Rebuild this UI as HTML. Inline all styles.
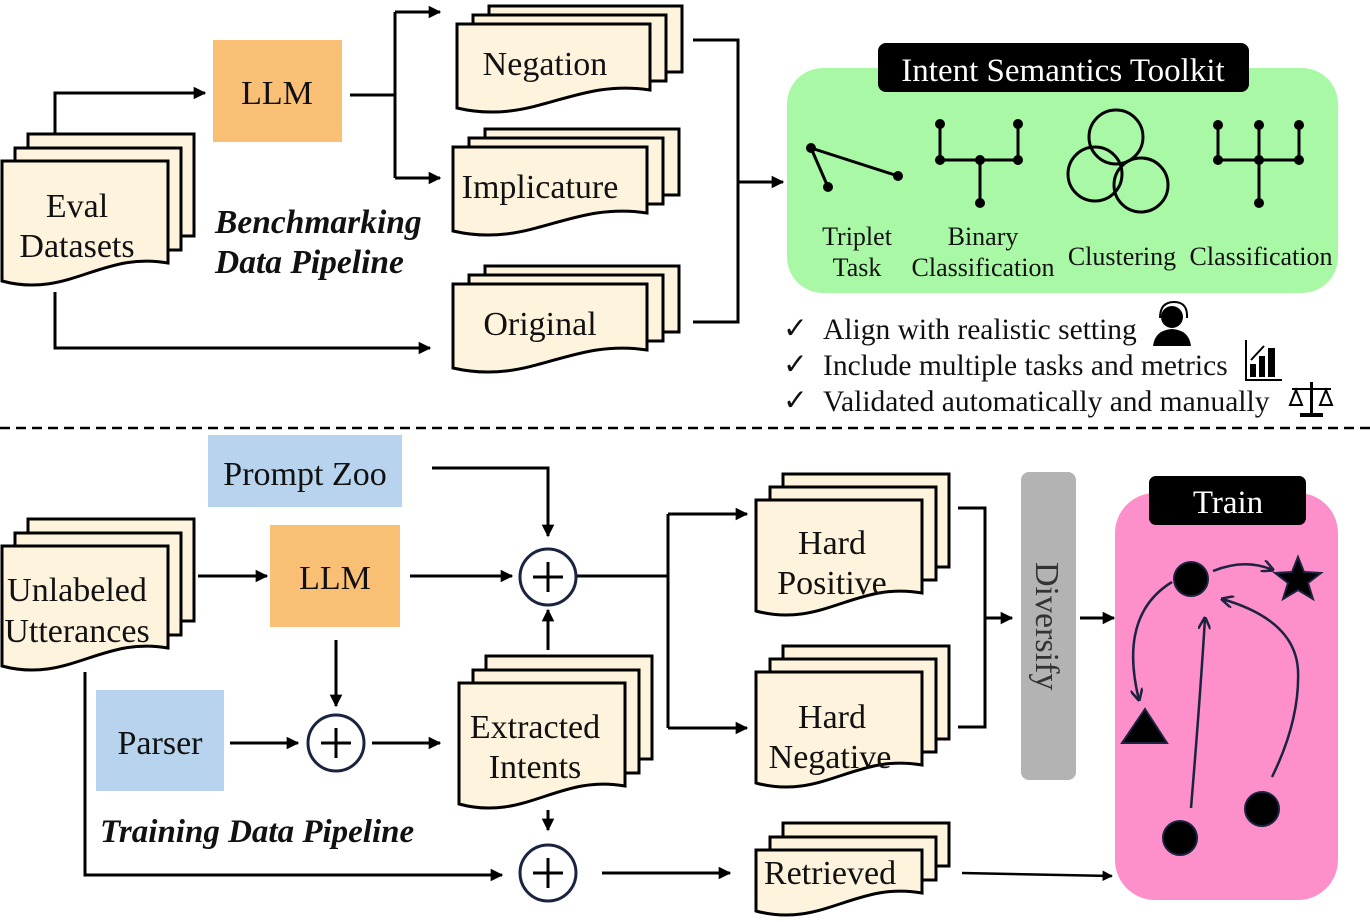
<!DOCTYPE html>
<html><head><meta charset="utf-8">
<style>
html,body{margin:0;padding:0;background:#fff;}
svg{display:block;}
text{font-family:"Liberation Serif","Times New Roman",serif;fill:#111;}
</style></head>
<body>
<svg id="s" width="1370" height="922" viewBox="0 0 1370 922" xmlns="http://www.w3.org/2000/svg">
<defs>
<marker id="a" viewBox="0 0 10 10" refX="9" refY="5" markerWidth="4.2" markerHeight="4.2" orient="auto"><path d="M0,0 L10,5 L0,10 Z" fill="#000"/></marker>
<marker id="b" viewBox="0 0 10 10" refX="9" refY="5" markerWidth="5" markerHeight="5" orient="auto"><path d="M0,0 L10,5 L0,10" fill="none" stroke="#1a2340" stroke-width="2"/></marker>
</defs>
<g id="docs"></g>
<g fill="none" stroke="#000" stroke-width="3">
<polyline points="55,134 55,93 205,93" marker-end="url(#a)"/>
<polyline points="350,95 395,95"/>
<polyline points="395,12 395,178"/>
<line x1="395" y1="12" x2="440" y2="12" marker-end="url(#a)"/>
<line x1="395" y1="178" x2="440" y2="178" marker-end="url(#a)"/>
<polyline points="55,292 55,348 430,348" marker-end="url(#a)"/>
<polyline points="693,40 738,40 738,322 693,322"/>
<line x1="738" y1="182" x2="783" y2="182" marker-end="url(#a)"/>
<polyline points="432,468 548,468 548,536" marker-end="url(#a)"/>
<line x1="198" y1="576" x2="267" y2="576" marker-end="url(#a)"/>
<line x1="410" y1="576" x2="512" y2="576" marker-end="url(#a)"/>
<polyline points="577,576 668,576"/>
<polyline points="668,514 668,728"/>
<line x1="668" y1="514" x2="747" y2="514" marker-end="url(#a)"/>
<line x1="668" y1="728" x2="747" y2="728" marker-end="url(#a)"/>
<line x1="336" y1="640" x2="336" y2="706" marker-end="url(#a)"/>
<line x1="230" y1="743" x2="298" y2="743" marker-end="url(#a)"/>
<line x1="372" y1="743" x2="440" y2="743" marker-end="url(#a)"/>
<line x1="548" y1="650" x2="548" y2="610" marker-end="url(#a)"/>
<line x1="548" y1="810" x2="548" y2="830" marker-end="url(#a)"/>
<polyline points="85,672 85,875 502,875" marker-end="url(#a)"/>
<line x1="602" y1="873" x2="730" y2="873" marker-end="url(#a)"/>
<polyline points="958,508 985,508 985,727 958,727"/>
<line x1="985" y1="618" x2="1012" y2="618" marker-end="url(#a)"/>
<line x1="1080" y1="618" x2="1114" y2="618" marker-end="url(#a)"/>
<line x1="962" y1="873" x2="1112" y2="876" stroke-width="2.5" marker-end="url(#a)"/>
</g>
<line x1="0" y1="428" x2="1370" y2="428" stroke="#000" stroke-width="2.5" stroke-dasharray="10,6"/>

<rect x="213" y="40" width="129" height="102" fill="#f9bf75"/>
<text x="277" y="104" font-size="34" text-anchor="middle">LLM</text>
<rect x="208" y="435" width="194" height="72" fill="#b7d3ed"/>
<text x="305" y="485" font-size="34" text-anchor="middle">Prompt Zoo</text>
<rect x="270" y="525" width="130" height="102" fill="#f9bf75"/>
<text x="335" y="589" font-size="34" text-anchor="middle">LLM</text>
<rect x="96" y="690" width="128" height="101" fill="#b7d3ed"/>
<text x="160" y="754" font-size="34" text-anchor="middle">Parser</text>

<g fill="#fff" stroke="#1a2340" stroke-width="3">
<circle cx="548" cy="577" r="28"/><circle cx="336" cy="743" r="28"/><circle cx="548" cy="873" r="28"/>
</g>
<g stroke="#000" stroke-width="3">
<path d="M533,577 H563 M548,562 V592"/><path d="M321,743 H351 M336,728 V758"/><path d="M533,873 H563 M548,858 V888"/>
</g>

<text font-size="33.5" font-weight="bold" font-style="italic" x="215" y="233">Benchmarking</text>
<text font-size="33.5" font-weight="bold" font-style="italic" x="215" y="273">Data Pipeline</text>
<text font-size="33" font-weight="bold" font-style="italic" x="100" y="842">Training Data Pipeline</text>

<rect x="787" y="68" width="551" height="225" rx="36" fill="#a9f8a6"/>
<rect x="878" y="43" width="371" height="49" rx="8" fill="#000"/>
<text x="1063" y="81" font-size="33" text-anchor="middle" style="fill:#fff">Intent Semantics Toolkit</text>
<g stroke="#000" stroke-width="3" fill="none">
<path d="M811,148 L828,187 M811,148 L898,176"/>
<path d="M940,124 V160 M1018,124 V160 M940,160 H1018 M980,160 V203"/>
<circle cx="1116" cy="137" r="27"/><circle cx="1095" cy="174" r="27"/><circle cx="1141" cy="185" r="27"/>
<path d="M1218,125 V160 M1259,125 V203 M1299,125 V160 M1218,160 H1299"/>
</g>
<g fill="#000">
<circle cx="811" cy="148" r="5"/><circle cx="828" cy="187" r="5"/><circle cx="898" cy="176" r="5"/>
<circle cx="940" cy="124" r="5"/><circle cx="1018" cy="124" r="5"/><circle cx="940" cy="160" r="5"/><circle cx="980" cy="160" r="5"/><circle cx="1018" cy="160" r="5"/><circle cx="980" cy="203" r="5"/>
<circle cx="1218" cy="125" r="5"/><circle cx="1259" cy="125" r="5"/><circle cx="1299" cy="125" r="5"/><circle cx="1218" cy="160" r="5"/><circle cx="1259" cy="160" r="5"/><circle cx="1299" cy="160" r="5"/><circle cx="1259" cy="203" r="5"/>
</g>
<g font-size="26" text-anchor="middle">
<text x="857" y="245">Triplet</text><text x="857" y="276">Task</text>
<text x="983" y="245">Binary</text><text x="983" y="276">Classification</text>
<text x="1122" y="265">Clustering</text><text x="1261" y="265">Classification</text>
</g>
<g font-size="29.5">
<text x="783" y="338">✓</text><text x="823" y="339">Align with realistic setting</text>
<text x="783" y="374">✓</text><text x="823" y="375">Include multiple tasks and metrics</text>
<text x="783" y="410">✓</text><text x="823" y="411">Validated automatically and manually</text>
</g>
<g fill="#000">
<circle cx="1172" cy="317" r="11"/>
<path d="M1153,346 Q1155,330 1172,329 Q1189,330 1191,346 Z"/>
<path d="M1160,318 Q1160,302 1174,302 Q1188,302 1187,318" fill="none" stroke="#000" stroke-width="2"/>
<rect x="1245" y="340" width="2" height="41"/><rect x="1245" y="379" width="37" height="2"/>
<rect x="1250" y="364" width="6" height="13"/><rect x="1259" y="356" width="6" height="21"/><rect x="1268" y="348" width="7" height="29"/>
<path d="M1251,360 L1264,346" stroke="#000" stroke-width="2"/>
<rect x="1310" y="382" width="3" height="33"/><rect x="1300" y="413" width="23" height="4"/>
<rect x="1292" y="388" width="39" height="2"/>
<path d="M1290,405 L1296,390 L1302,405 Z M1320,405 L1326,390 L1332,405 Z" fill="none" stroke="#000" stroke-width="2"/>
</g>

<rect x="1021" y="472" width="55" height="308" rx="8" fill="#b3b3b3"/>
<text x="0" y="0" font-size="34" style="fill:#333" transform="translate(1036,562) rotate(90)">Diversify</text>

<rect x="1115" y="493" width="223" height="407" rx="40" fill="#fd8fcb"/>
<rect x="1149" y="476" width="157" height="49" rx="7" fill="#000"/>
<text x="1228" y="513" font-size="33" text-anchor="middle" style="fill:#fff">Train</text>
<g fill="#000" stroke="#1a2340" stroke-width="2">
<circle cx="1191" cy="579" r="17"/><circle cx="1180" cy="838" r="17"/><circle cx="1262" cy="809" r="17"/>
<path d="M1122,743 L1167,743 L1145,709 Z"/>
<path d="M1298,557 L1304,572 L1321,573 L1308,583 L1313,599 L1298,590 L1283,599 L1288,583 L1275,573 L1292,572 Z"/>
</g>
<g fill="none" stroke="#1a2340" stroke-width="2.5">
<path d="M1213,571 Q1245,558 1273,570" marker-end="url(#b)"/>
<path d="M1172,582 Q1118,615 1139,700" marker-end="url(#b)"/>
<path d="M1191,808 Q1200,700 1205,618" marker-end="url(#b)"/>
<path d="M1272,777 Q1300,720 1298,670 Q1295,620 1222,599" marker-end="url(#b)"/>
</g>

<g font-size="34" text-anchor="middle">
<text x="77" y="217">Eval</text><text x="77" y="257">Datasets</text>
<text x="545" y="75">Negation</text>
<text x="540" y="198">Implicature</text>
<text x="540" y="335">Original</text>
<text x="77" y="601">Unlabeled</text><text x="77" y="642">Utterances</text>
<text x="832" y="554">Hard</text><text x="832" y="594">Positive</text>
<text x="832" y="728">Hard</text><text x="830" y="768">Negative</text>
<text x="535" y="738">Extracted</text><text x="535" y="778">Intents</text>
<text x="830" y="884">Retrieved</text>
</g>
</svg>
<script>
(function(){
var g=document.getElementById('docs'),ns='http://www.w3.org/2000/svg';
function el(t,a){var e=document.createElementNS(ns,t);for(var k in a)e.setAttribute(k,a[k]);g.appendChild(e);}
function stack(x,y,w,h,dx,dy,dx2,dy2){
 var st={fill:'#fef3dd',stroke:'#000','stroke-width':3};
 [[dx2,dy2],[dx,dy]].forEach(function(o){
  el('rect',Object.assign({x:x+o[0],y:y+o[1],width:w,height:h-22},st));
 });
 var d='M'+x+','+y+' H'+(x+w)+' V'+(y+h-22)+' C'+(x+0.6*w)+','+(y+h-34)+' '+(x+0.4*w)+','+(y+h+14)+' '+x+','+(y+h-4)+' Z';
 el('path',Object.assign({d:d},st));
}
stack(2,161,166,124,13,-13,26,-27);
stack(457,24,193,88,16,-9,32,-18);
stack(453,147,194,88,16,-9,32,-18);
stack(453,284,194,88,16,-9,32,-18);
stack(2,546,166,124,13,-13,26,-27);
stack(756,500,166,115,14,-13,27,-26);
stack(756,672,166,115,14,-13,27,-26);
stack(459,683,166,125,14,-13,27,-27);
stack(756,850,166,65,14,-13,27,-27);
})();
</script>
</body></html>
